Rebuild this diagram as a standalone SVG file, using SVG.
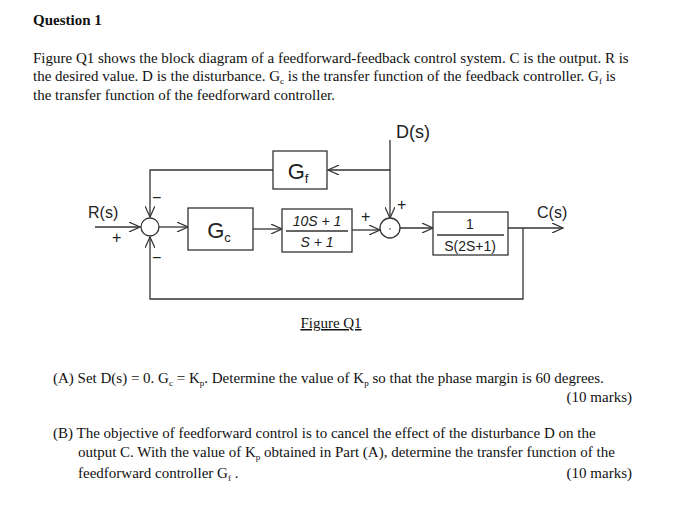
<svg xmlns="http://www.w3.org/2000/svg" width="687" height="519" viewBox="0 0 687 519">
<style>
.t{font-family:"Liberation Serif",serif;font-size:15px;fill:#111}
.h{font-family:"Liberation Sans",sans-serif;font-size:14px;fill:#222}
.l{stroke:#333;stroke-width:1.3;fill:none}
.b{stroke:#333;stroke-width:1.3;fill:#fff}
</style>
<defs><marker id="a" markerWidth="12" markerHeight="10" refX="11" refY="5" orient="auto" markerUnits="userSpaceOnUse"><path d="M0,0 L11,5 L0,10" fill="none" stroke="#333" stroke-width="1.2"/></marker></defs>
<rect width="687" height="519" fill="#fff"/>
<text class="t" x="33" y="25" font-weight="bold">Question 1</text>
<text class="t" x="33" y="63">Figure Q1 shows the block diagram of a feedforward-feedback control system. C is the output. R is</text>
<text class="t" x="33" y="81">the desired value. D is the disturbance.  G<tspan style="font-size:9px" dy="3">c</tspan><tspan dy="-3"> is the transfer function of the feedback controller.  G</tspan><tspan style="font-size:9px" dy="3">f</tspan><tspan dy="-3"> is</tspan></text>
<text class="t" x="33" y="100">the transfer function of the feedforward controller.</text>
<g id="connectors">
<path class="l" d="M390,140 V170 H328" marker-end="url(#a)"/>
<path class="l" d="M273,170 H150 V217" marker-end="url(#a)"/>
<path class="l" d="M390,170 V218" marker-end="url(#a)"/>
<path class="l" d="M95,227 H140" marker-end="url(#a)"/>
<path class="l" d="M159,227 H188" marker-end="url(#a)"/>
<path class="l" d="M253,229 H282" marker-end="url(#a)"/>
<path class="l" d="M352,230 H380" marker-end="url(#a)"/>
<path class="l" d="M400,228 H433" marker-end="url(#a)"/>
<path class="l" d="M508,228 H563" marker-end="url(#a)"/>
<path class="l" d="M523,228 V299 H150 V237" marker-end="url(#a)"/>
</g>
<g id="sum1"><circle class="b" cx="150" cy="227" r="9"/></g>
<g id="sum2"><circle class="b" cx="390" cy="228" r="10"/><circle cx="390" cy="229" r="0.8" fill="#333"/></g>
<g id="Gf"><rect class="b" x="273" y="151" width="54" height="38"/><text class="h" x="298" y="179" text-anchor="middle" style="font-size:22px">G<tspan style="font-size:13px" dy="4">f</tspan></text></g>
<g id="Gc"><rect class="b" x="188" y="208" width="65" height="42"/><text class="h" x="219" y="238" text-anchor="middle" style="font-size:22px">G<tspan style="font-size:13px" dy="4">c</tspan></text></g>
<g id="lead"><rect class="b" x="282" y="209" width="70" height="43"/><text class="h" x="317" y="226" text-anchor="middle" font-style="italic">10S + 1</text><line class="l" x1="286" y1="231" x2="348" y2="231"/><text class="h" x="317" y="247" text-anchor="middle" font-style="italic">S + 1</text></g>
<g id="plant"><rect class="b" x="433" y="212" width="75" height="43"/><text class="h" x="470" y="229" text-anchor="middle">1</text><line class="l" x1="437" y1="235" x2="504" y2="235"/><text class="h" x="470" y="251" text-anchor="middle">S(2S+1)</text></g>
<g id="labels">
<text class="h" x="88" y="218" style="font-size:16px">R(s)</text>
<text class="h" x="112" y="243" style="font-size:16px">+</text>
<text class="h" x="152" y="203" style="font-size:16px">−</text>
<text class="h" x="152" y="263" style="font-size:16px">−</text>
<text class="h" x="361" y="222" style="font-size:16px">+</text>
<text class="h" x="397" y="210" style="font-size:16px">+</text>
<text class="h" x="396" y="138" style="font-size:18px">D(s)</text>
<text class="h" x="537" y="218" style="font-size:16px">C(s)</text>
</g>
<text class="t" x="331" y="328" text-anchor="middle" text-decoration="underline">Figure Q1</text>
<text class="t" x="53" y="383">(A) Set D(s) = 0. G<tspan style="font-size:9px" dy="3">c</tspan><tspan dy="-3"> = K</tspan><tspan style="font-size:9px" dy="3">p</tspan><tspan dy="-3">. Determine the value of K</tspan><tspan style="font-size:9px" dy="3">p</tspan><tspan dy="-3"> so that the phase margin is 60 degrees.</tspan></text>
<text class="t" x="632" y="402" text-anchor="end">(10 marks)</text>
<text class="t" x="53" y="438">(B) The objective of feedforward control is to cancel the effect of the disturbance D on the</text>
<text class="t" x="78" y="457">output C. With the value of K<tspan style="font-size:9px" dy="3">p</tspan><tspan dy="-3"> obtained in Part (A), determine the transfer function of the</tspan></text>
<text class="t" x="78" y="478">feedforward controller G<tspan style="font-size:9px" dy="3">f</tspan><tspan dy="-3"> .</tspan></text>
<text class="t" x="632" y="478" text-anchor="end">(10 marks)</text>
</svg>
